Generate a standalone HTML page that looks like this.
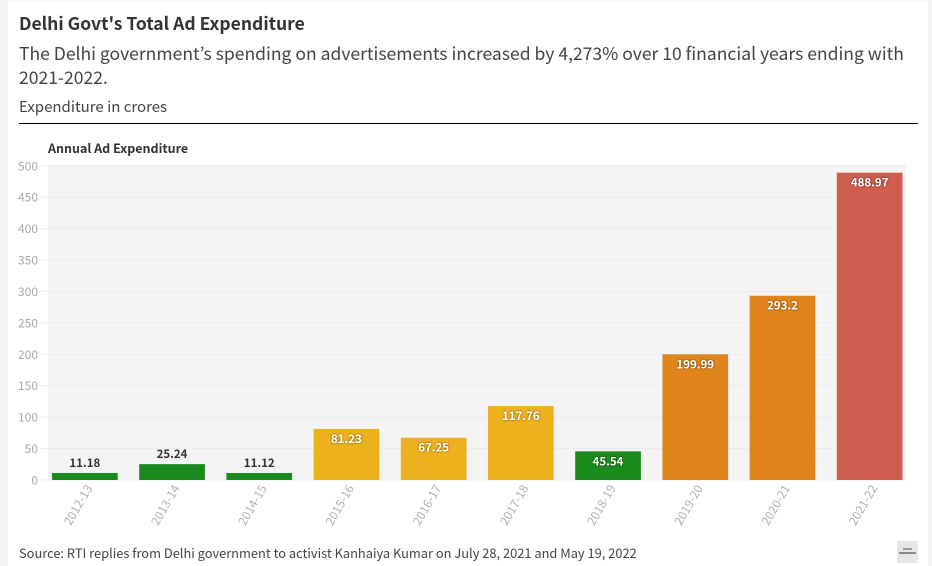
<!DOCTYPE html>
<html lang="en">
<head>
<meta charset="utf-8">
<title>Delhi Govt's Total Ad Expenditure</title>
<style>
html,body{margin:0;padding:0;width:932px;height:566px;overflow:hidden;background:#f5f5f5}
svg{display:block;font-family:"Noto Sans CJK JP","Liberation Sans",sans-serif}
</style>
</head>
<body>
<svg id="chart" width="932" height="566" viewBox="0 0 932 566" xmlns="http://www.w3.org/2000/svg">
  <rect x="8" y="1" width="920" height="565" fill="#ffffff"/>
  <text x="19" y="30" font-size="17.5" font-weight="700" fill="#333333">Delhi Govt's Total Ad Expenditure</text>
  <text x="19" y="60" font-size="17.55" fill="#444444">The Delhi government’s spending on advertisements increased by 4,273% over 10 financial years ending with</text>
  <text x="19" y="84" font-size="17.55" fill="#444444">2021-2022.</text>
  <text x="19" y="112" font-size="15" fill="#444444">Expenditure in crores</text>
  <rect x="19" y="123" width="899" height="1" fill="#000000"/>
  <text x="48" y="153" font-size="12.5" font-weight="700" fill="#333333">Annual Ad Expenditure</text>
  <rect x="48" y="165" width="857.7" height="315" fill="#f4f4f4"/>
  <g id="grid"></g>
  <g id="bars"></g>
  <g id="x-axis"></g>
  <text x="19" y="558" font-size="12.85" fill="#444444">Source: RTI replies from Delhi government to activist Kanhaiya Kumar on July 28, 2021 and May 19, 2022</text>
  <g>
    <rect x="897" y="541" width="21" height="22" fill="#e6e6e6"/>
    <rect x="903" y="548" width="9" height="2" fill="#9a9a9a"/>
    <rect x="899" y="552" width="17" height="2" fill="#8a8a8a"/>
  </g>
</svg>
<script>
const categories = ["2012-13", "2013-14", "2014-15", "2015-16", "2016-17", "2017-18", "2018-19", "2019-20", "2020-21", "2021-22"];
const expenditure = [11.18, 25.24, 11.12, 81.23, 67.25, 117.76, 45.54, 199.99, 293.2, 488.97];
const yTicks = [0, 50, 100, 150, 200, 250, 300, 350, 400, 450, 500];

const NS = 'http://www.w3.org/2000/svg';
const yScale = v => 480 - v * 0.6285;
const xBand = i => 52 + i * 87.2;
const barWidth = 65.7;
const colorFor = v => v < 50 ? '#1b8a1c' : v < 150 ? '#edb120' : v < 300 ? '#e0851e' : '#cf5e4f';
const make = (tag, attrs, text) => {
  const el = document.createElementNS(NS, tag);
  for (const k in attrs) el.setAttribute(k, attrs[k]);
  if (text !== undefined) el.textContent = text;
  return el;
};

const grid = document.getElementById('grid');
yTicks.forEach(t => {
  const y = yScale(t);
  const line = make('rect', { x: 40, y: y - 0.5, width: 865.7, height: 1, fill: '#ececec' });
  
  
  grid.appendChild(line);
  const label = make('text', { x: 38, y: y + 4.5, 'text-anchor': 'end', 'font-size': 12, fill: '#a8a8a8' }, String(t));
  
  
  grid.appendChild(label);
});

const bars = document.getElementById('bars');
const xAxis = document.getElementById('x-axis');
expenditure.forEach((v, i) => {
  const x = xBand(i);
  const top = yScale(v);
  const cx = x + barWidth / 2;
  const bar = make('rect', { x: x, y: top, width: barWidth, height: 480 - top, fill: colorFor(v) });
  
  
  bars.appendChild(bar);

  const inside = v > 40;
  const value = make('text', {
    x: cx,
    y: inside ? top + 14 : top - 6,
    'text-anchor': 'middle',
    'font-size': 11.5,
    'font-weight': 700,
    fill: inside ? '#ffffff' : '#333333'
  }, String(v));
  if (inside) value.setAttribute('style', 'text-shadow:0 0 2px rgba(0,0,0,.6)');
  
  
  bars.appendChild(value);

  const tick = make('text', {
    x: cx + 8,
    y: 488,
    'text-anchor': 'end',
    'font-size': 12,
    fill: '#b0b0b0',
    transform: 'rotate(-60 ' + (cx + 8) + ' 488)'
  }, categories[i]);
  
  
  xAxis.appendChild(tick);
});
</script>
</body>
</html>
